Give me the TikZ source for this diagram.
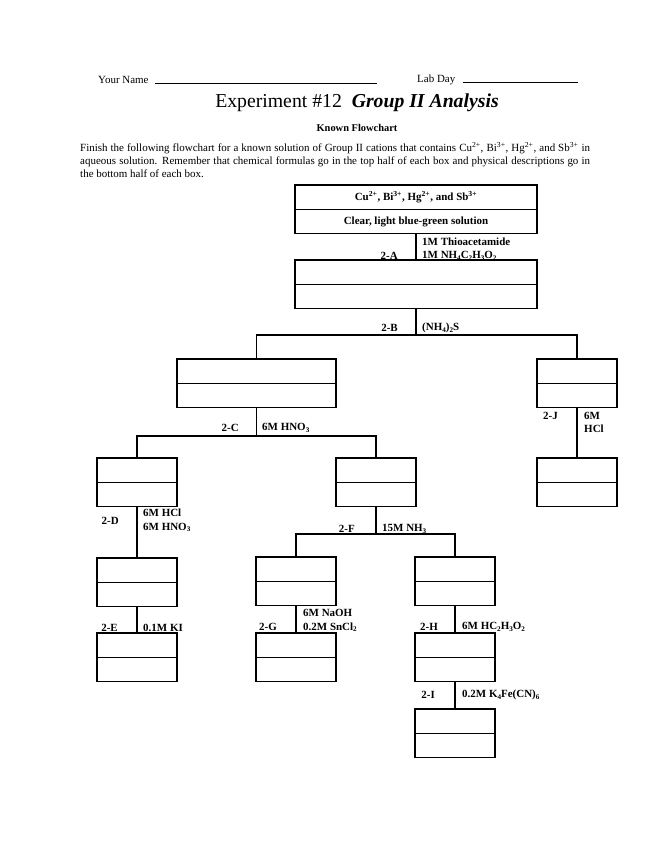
\documentclass[tikz,border=0pt]{standalone}
\usepackage{fontspec}
\setmainfont{Liberation Serif}
\usetikzlibrary{positioning}
% small subscript for formulas, lowered only a little
\newcommand{\chsub}[1]{\raisebox{-0.3ex}{\fontsize{6.5}{7}\selectfont #1}}

\begin{document}
\begin{tikzpicture}
[x=0.912pt, y=-0.912pt, font=\fontsize{10}{12}\selectfont,
% STYLES
% One half of a box: formula on top, description below
half/.style={rectangle, draw, line width=1pt, outer sep=0pt, inner sep=0pt, minimum height=22.3pt, font=\bfseries\fontsize{10}{12}\selectfont},
widebox/.style={half, minimum width=220.7pt},
midbox/.style={half, minimum width=145pt},
smallbox/.style={half, minimum width=73pt},
% The stepname style is used for the step numbers, the reagent style for what is added
stepname/.style={inner sep=0pt, anchor=east, font=\bfseries\fontsize{10}{12}\selectfont},
reagent/.style={inner sep=0pt, anchor=west, align=left, font=\bfseries\fontsize{10}{12.3}\selectfont},
link/.style={line width=1pt}]
\useasboundingbox (0,0) rectangle (671,860);
% Header
\node [inner sep=0pt, anchor=west] (yourname) at (98,80) {Your Name};
\draw [line width=0.7pt] (yourname.base east) ++(6,0) -- ++(222,0);
\node [inner sep=0pt, anchor=west] (labday) at (417,80) {Lab Day};
\draw [line width=0.7pt] (labday.base east) ++(7,0) -- ++(115,0);
\node [inner sep=0pt] (title) at (357,103) {\fontsize{18}{22}\selectfont Experiment \#12\ \ \textbf{\textit{Group II Analysis}}};
\node [inner sep=0pt, font=\bfseries\fontsize{9.5}{12}\selectfont] (subtitle) at (357,128) {Known Flowchart};
\node [inner sep=0pt, anchor=north west, text width=465pt, align=justify, font=\fontsize{10}{11.9}\selectfont] (intro) at (80,142) {Finish the following flowchart for a known solution of Group II cations that contains Cu\textsuperscript{2+}, Bi\textsuperscript{3+}, Hg\textsuperscript{2+}, and Sb\textsuperscript{3+} in\linebreak aqueous solution.  Remember that chemical formulas go in the top half of each box and physical descriptions go in\linebreak the bottom half of each box.};
% Draw boxes
\node [widebox, anchor=north] (orig) at (416,185) {Cu\textsuperscript{2+}, Bi\textsuperscript{3+}, Hg\textsuperscript{2+}, and Sb\textsuperscript{3+}};
\node [widebox, below=0pt of orig] (orig-d) {Clear, light blue-green solution};
\node [widebox, anchor=north] (s2a) at (416,260) {};
\node [widebox, below=0pt of s2a] (s2a-d) {};
\node [midbox, anchor=north] (s2b-l) at (256.5,359) {};
\node [midbox, below=0pt of s2b-l] (s2b-l-d) {};
\node [smallbox, anchor=north] (s2b-r) at (577,359) {};
\node [smallbox, below=0pt of s2b-r] (s2b-r-d) {};
\node [smallbox, anchor=north] (s2c-l) at (137,458) {};
\node [smallbox, below=0pt of s2c-l] (s2c-l-d) {};
\node [smallbox, anchor=north] (s2c-r) at (376,458) {};
\node [smallbox, below=0pt of s2c-r] (s2c-r-d) {};
\node [smallbox, anchor=north] (s2j) at (577,458) {};
\node [smallbox, below=0pt of s2j] (s2j-d) {};
\node [smallbox, anchor=north] (s2d) at (137,558) {};
\node [smallbox, below=0pt of s2d] (s2d-d) {};
\node [smallbox, anchor=north] (s2f-l) at (296,557) {};
\node [smallbox, below=0pt of s2f-l] (s2f-l-d) {};
\node [smallbox, anchor=north] (s2f-r) at (455,557) {};
\node [smallbox, below=0pt of s2f-r] (s2f-r-d) {};
\node [smallbox, anchor=north] (s2e) at (137,633) {};
\node [smallbox, below=0pt of s2e] (s2e-d) {};
\node [smallbox, anchor=north] (s2g) at (296,633) {};
\node [smallbox, below=0pt of s2g] (s2g-d) {};
\node [smallbox, anchor=north] (s2h) at (455,633) {};
\node [smallbox, below=0pt of s2h] (s2h-d) {};
\node [smallbox, anchor=north] (s2i) at (455,709) {};
\node [smallbox, below=0pt of s2i] (s2i-d) {};
%%%%%%%%%%%%%%%
% Steps and reagents
\node [stepname] (l2a) at (398,256) {2-A};
\node [reagent] (r2a) at (422,249) {1M Thioacetamide\\1M NH\chsub{4}C\chsub{2}H\chsub{3}O\chsub{2}};
\node [stepname] (l2b) at (398,328) {2-B};
\node [reagent] (r2b) at (422,328) {(NH\chsub{4})\chsub{2}S};
\node [stepname] (l2c) at (239,428) {2-C};
\node [reagent] (r2c) at (262,428) {6M HNO\chsub{3}};
\node [stepname] (l2j) at (558,416) {2-J};
\node [reagent] (r2j) at (584,422.5) {6M\\HCl};
\node [stepname] (l2d) at (119,521) {2-D};
\node [reagent] (r2d) at (143,520.5) {6M HCl\\6M HNO\chsub{3}};
\node [stepname] (l2f) at (355,529) {2-F};
\node [reagent] (r2f) at (382,529) {15M NH\chsub{3}};
\node [stepname] (l2e) at (118,628) {2-E};
\node [reagent] (r2e) at (143,628) {0.1M KI};
\node [stepname] (l2g) at (277,627) {2-G};
\node [reagent] (r2g) at (303,620.5) {6M NaOH\\0.2M SnCl\chsub{2}};
\node [stepname] (l2h) at (438,627) {2-H};
\node [reagent] (r2h) at (462,627) {6M HC\chsub{2}H\chsub{3}O\chsub{2}};
\node [stepname] (l2i) at (435,695) {2-I};
\node [reagent] (r2i) at (462,695) {0.2M K\chsub{4}Fe(CN)\chsub{6}};
%%%%%%%%%%%%%%%
% Draw the links between boxes
\coordinate (fork-b) at (416,335);
\coordinate (fork-c) at (256.5,436);
\coordinate (fork-f) at (376,534);
\draw [link] (s2b-l) |- (fork-b) -| (s2b-r);
\draw [link] (s2c-l) |- (fork-c) -| (s2c-r);
\draw [link] (s2f-l) |- (fork-f) -| (s2f-r);
\path [link]
(orig-d) edge (s2a)
(s2a-d) edge (fork-b)
(s2b-l-d) edge (fork-c)
(s2b-r-d) edge (s2j)
(s2c-l-d) edge (s2d)
(s2c-r-d) edge (fork-f)
(s2d-d) edge (s2e)
(s2f-l-d) edge (s2g)
(s2f-r-d) edge (s2h)
(s2h-d) edge (s2i);
\end{tikzpicture}
\end{document}
